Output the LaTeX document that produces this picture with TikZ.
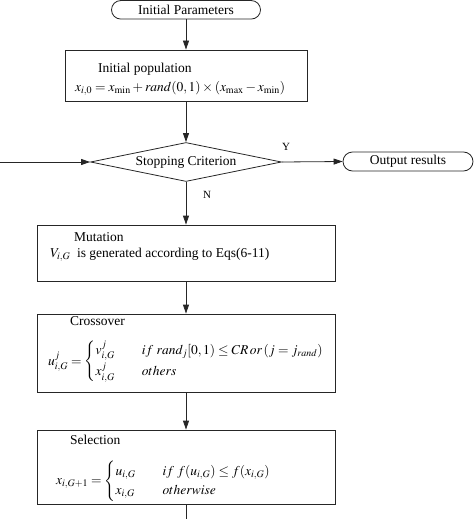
\documentclass[tikz,border=0pt]{standalone}
\usepackage{amsmath}
\usepackage{mathptmx}
\usepackage{fontspec}
\setmainfont{Liberation Serif}
\usetikzlibrary{shapes.misc,shapes.geometric,arrows.meta}
\begin{document}
\begin{tikzpicture}[x=1pt,y=-1pt,
  every node/.style={font=\fontsize{13.5}{16}\selectfont},
  box/.style={draw=black!85,line width=0.8pt,rectangle,inner sep=0pt},
  term/.style={draw=black!85,line width=0.8pt,rounded rectangle,inner sep=0pt},
  decision/.style={draw=black!85,line width=0.8pt,diamond,aspect=4.9,inner sep=0pt,minimum width=191pt,minimum height=39pt},
  txt/.style={anchor=base west,inner sep=0pt},
  blocktxt/.style={anchor=north west,inner sep=0pt,align=left},
  conn/.style={draw=black!85,line width=0.8pt,-{Triangle[length=9pt,width=6pt]}},
  lbl/.style={inner sep=0pt,font=\fontsize{11}{13}\selectfont}]
\useasboundingbox (0,0) rectangle (474,519);
\clip (0,0) rectangle (474,519);
% nodes
\node[term,minimum width=149pt,minimum height=18.5pt] (ip) at (186,9.8) {Initial Parameters};
\node[box,minimum width=242pt,minimum height=51pt] (pop) at (186,75.5) {};
\node[txt] (poplbl) at (98,72) {Initial population};
\node[txt] (popeq) at (75,91) {$x_{i,0}=x_{\min}+rand(0,1)\times(x_{\max}-x_{\min})$};
\node[decision] (dec) at (186,162) {Stopping Criterion};
\node[term,minimum width=130pt,minimum height=19pt] (out) at (408,161.5) {Output results};
\node[box,minimum width=298pt,minimum height=56pt] (mut) at (186,253) {};
\node[txt] (mutlbl) at (74,241) {Mutation};
\node[txt] (muteq) at (50,257) {$V_{i,G}$\ \ is generated according to Eqs(6-11)};
\node[box,minimum width=298pt,minimum height=78pt] (cro) at (186,353) {};
\node[blocktxt] (crotxt) at (48,316) {\hspace*{22pt}Crossover\\[15pt]
 $u^{j}_{i,G}=\begin{cases} v^{j}_{i,G} & \quad if\ rand_{j}[0,1)\le CR\,or\,(j=j_{rand})\\[2pt] x^{j}_{i,G} & \quad others\end{cases}$};
\node[box,minimum width=298pt,minimum height=74pt] (sel) at (186,467) {};
\node[blocktxt] (seltxt) at (56,435) {\hspace*{14pt}Selection\\[15pt]
 $x_{i,G+1}=\begin{cases} u_{i,G} & \quad if\ f(u_{i,G})\le f(x_{i,G})\\ x_{i,G} & \quad otherwise\end{cases}$};
\node[lbl] (ylbl) at (286,147) {Y};
\node[lbl] (nlbl) at (207,195) {N};
\coordinate (lb) at (186,540);
\coordinate (ll) at (-10,540);
\coordinate (lt) at (-10,162);
% connectors
\draw[conn] (ip.south) -- (pop.north);
\draw[conn] (pop.south) -- (dec.north);
\draw[conn] (dec.east) -- (out.west);
\draw[conn] (dec.south) -- (mut.north);
\draw[conn] (mut.south) -- (cro.north);
\draw[conn] (cro.south) -- (sel.north);
\draw[conn] (sel.south) -- (lb) -- (ll) -- (lt) -- (dec.west);
\end{tikzpicture}
\end{document}
